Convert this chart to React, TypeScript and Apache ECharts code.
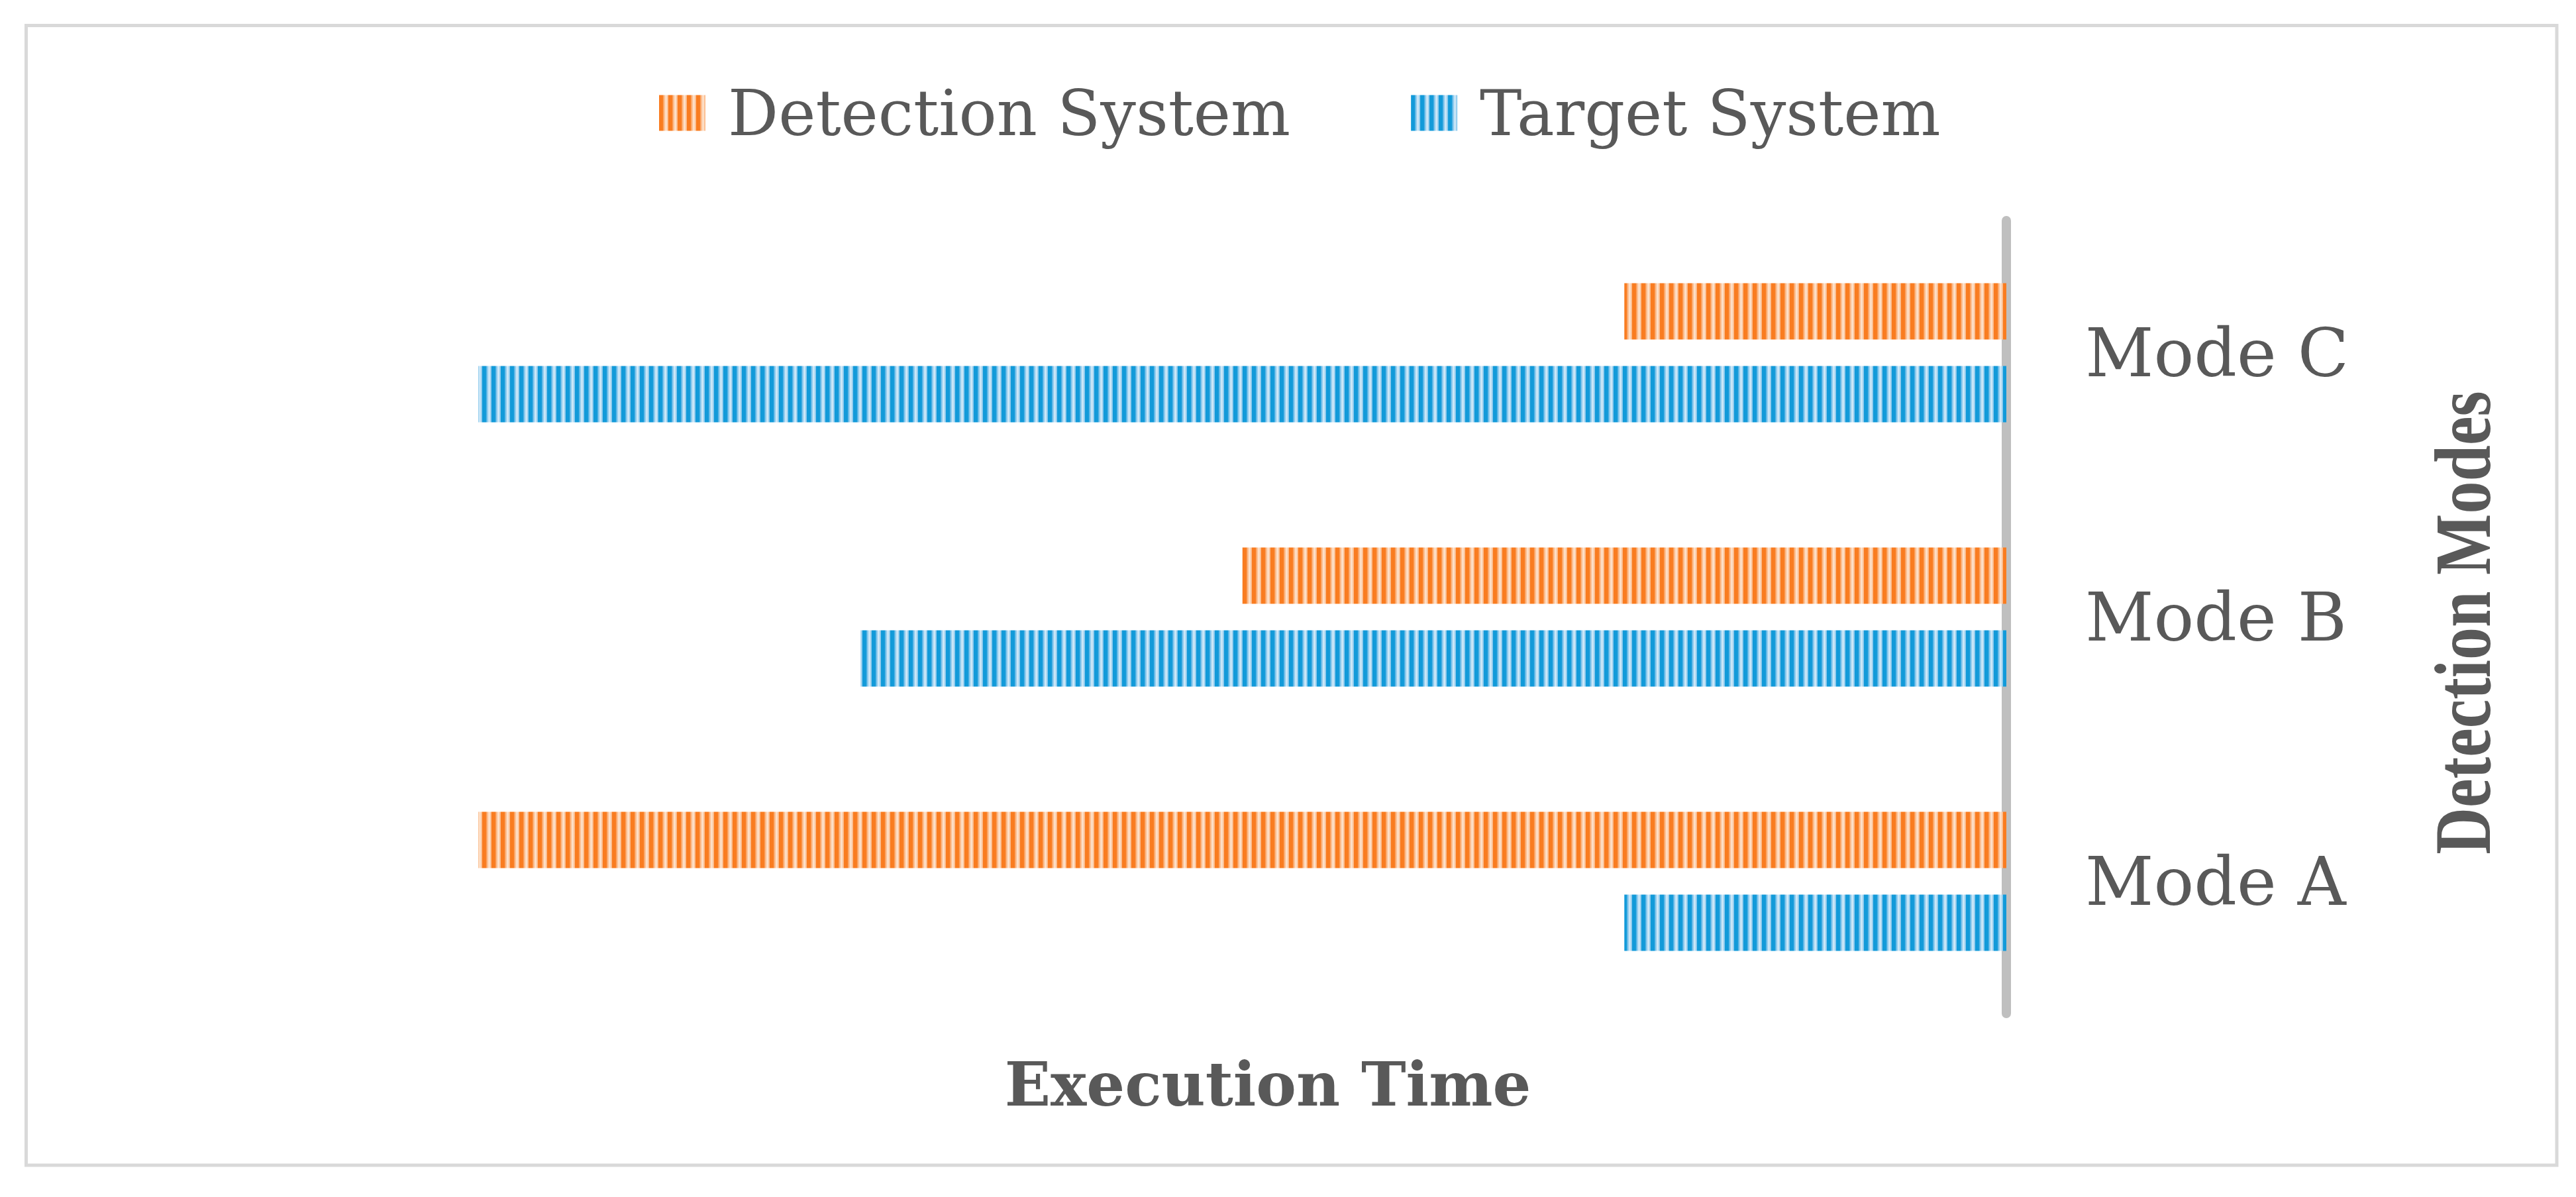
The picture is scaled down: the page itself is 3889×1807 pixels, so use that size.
import React, { useEffect, useRef } from 'react';
import * as echarts from 'echarts';

const categories = ['Mode A', 'Mode B', 'Mode C'];
const detectionSystem = [4, 2, 1];
const targetSystem = [1, 3, 4];
const seriesNames = ['Detection System', 'Target System'];
const xAxisTitle = 'Execution Time';
const yAxisTitle = 'Detection Modes';
const axisMax = 4;

function makePattern(dark: string, mid: string, light: string) {
  const c = document.createElement('canvas');
  c.width = 14;
  c.height = 4;
  const ctx = c.getContext('2d')!;
  const g = ctx.createLinearGradient(0, 0, 14, 0);
  g.addColorStop(0, dark);
  g.addColorStop(0.38, dark);
  g.addColorStop(0.52, mid);
  g.addColorStop(0.75, light);
  g.addColorStop(1, mid);
  ctx.fillStyle = g;
  ctx.fillRect(0, 0, 14, 4);
  return { image: c, repeat: 'repeat', imageWidth: 14, imageHeight: 4 } as any;
}

export default function App() {
  const ref = useRef<HTMLDivElement>(null);
  useEffect(() => {
    document.body.style.margin = '0';
    const chart = echarts.init(ref.current!, null, { renderer: 'svg' });
    const orange = makePattern('#f97c20', '#fbb27c', '#fde6d3');
    const blue = makePattern('#129ad9', '#79c1ea', '#d8ecf9');
    const gray = '#595959';
    chart.setOption({
      animation: false,
      backgroundColor: '#ffffff',
      legend: {
        left: 990,
        top: 118,
        itemWidth: 70,
        itemHeight: 54,
        itemGap: 182,
        icon: 'rect',
        data: seriesNames,
        textStyle: {
          fontFamily: 'DejaVu Serif',
          fontSize: 95,
          color: gray,
          padding: [0, 0, 0, 29],
        },
      },
      grid: { left: 3029 - 576.75 * axisMax, right: 3889 - 3029, top: 333, bottom: 1807 - 1530, containLabel: false },
      xAxis: {
        type: 'value',
        inverse: true,
        min: 0,
        max: axisMax,
        axisLine: { show: false },
        axisTick: { show: false },
        axisLabel: { show: false },
        splitLine: { show: false },
      },
      yAxis: {
        type: 'category',
        position: 'right',
        data: categories,
        axisLine: { show: true, lineStyle: { color: '#bfbfbf', width: 14 } },
        axisTick: { show: false },
        axisLabel: {
          margin: 119,
          fontFamily: 'DejaVu Serif',
          fontSize: 101,
          color: gray,
          align: 'left',
        },
      },
      series: [
        {
          name: seriesNames[0],
          type: 'bar',
          data: detectionSystem,
          barWidth: 85,
          barGap: '47%',
          itemStyle: { color: orange },
        },
        {
          name: seriesNames[1],
          type: 'bar',
          data: targetSystem,
          barWidth: 85,
          barGap: '47%',
          itemStyle: { color: blue },
        },
      ],
      graphic: [
        {
          type: 'rect',
          shape: { x: 39.5, y: 38.5, width: 3820.5, height: 1720.5 },
          style: { fill: 'none', stroke: '#d9d9d9', lineWidth: 5 },
          silent: true,
        },
        {
          type: 'text',
          x: 1914,
          y: 1637,
          style: {
            text: xAxisTitle,
            font: 'bold 91px "DejaVu Serif"',
            fill: gray,
            align: 'center',
            verticalAlign: 'middle',
          },
        },
        {
          type: 'text',
          x: 3718,
          y: 940,
          rotation: Math.PI / 2,
          scaleX: 0.98,
          scaleY: 1.21,
          style: {
            text: yAxisTitle,
            font: 'bold 100px "Liberation Serif"',
            fill: gray,
            align: 'center',
            verticalAlign: 'middle',
          },
        },
      ],
    });
    return () => chart.dispose();
  }, []);
  return <div ref={ref} style={{ width: 3889, height: 1807 }} />;
}
